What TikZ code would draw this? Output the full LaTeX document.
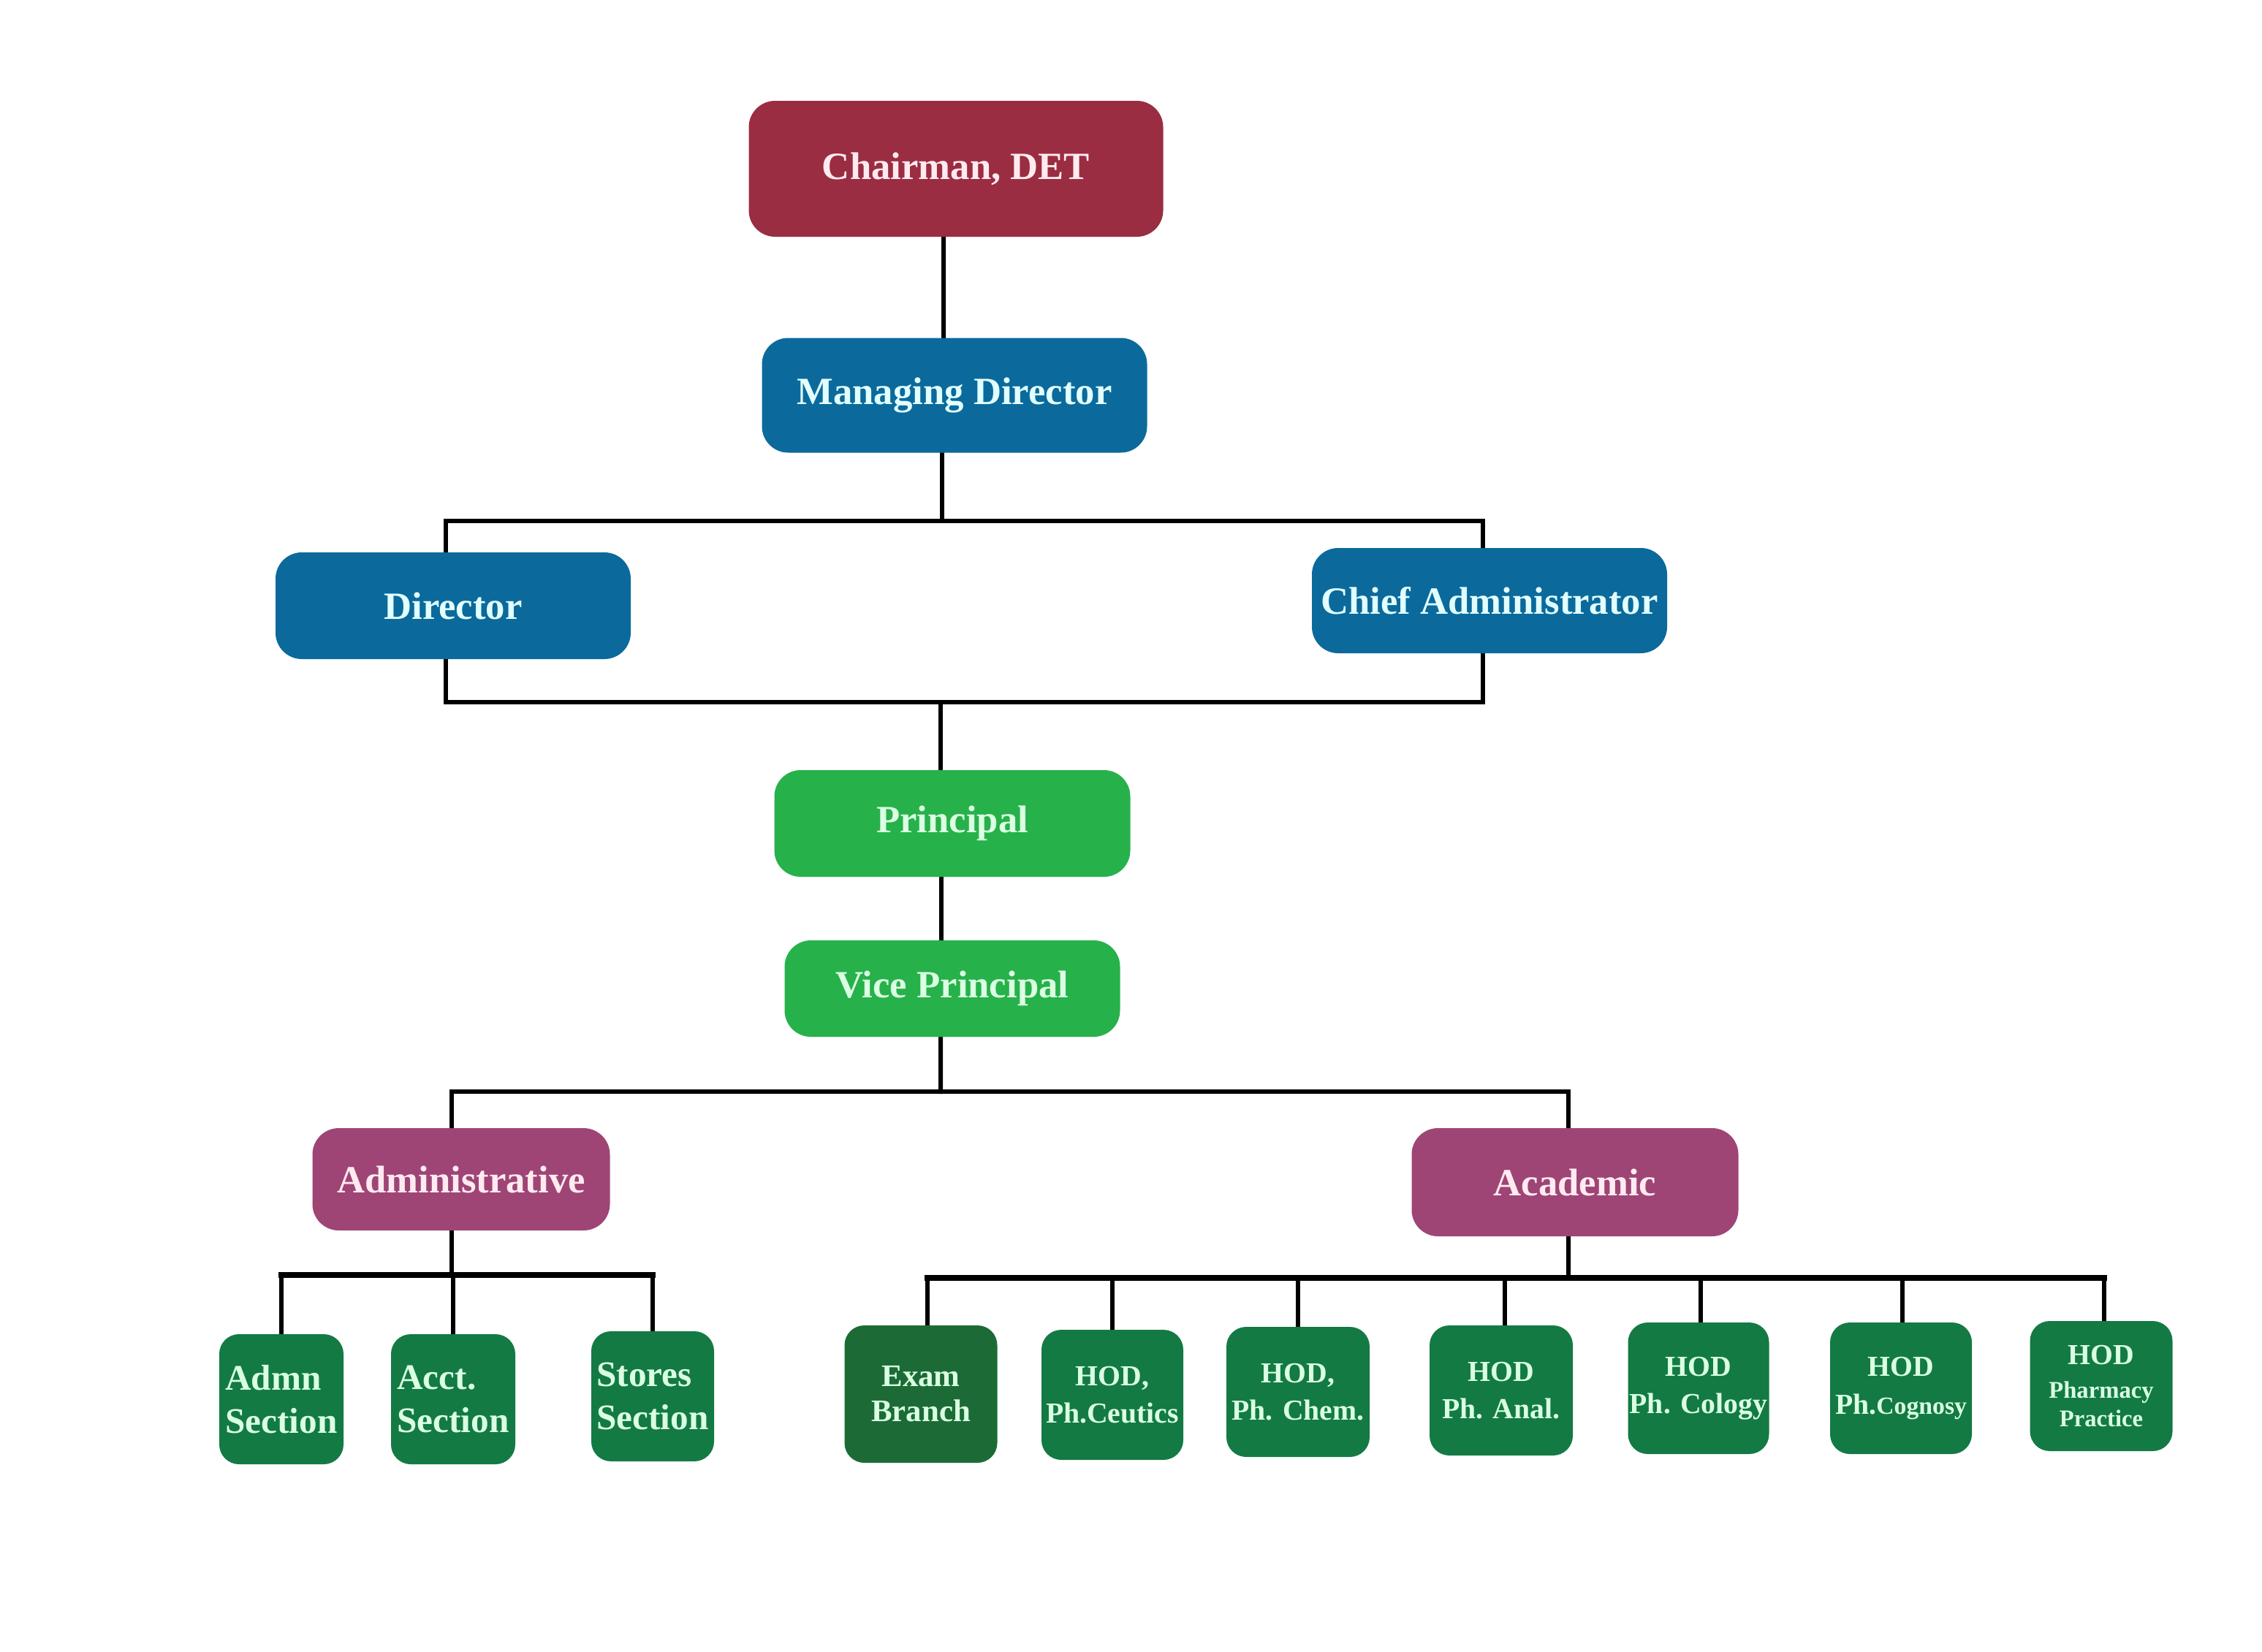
\documentclass[tikz,border=0pt]{standalone}
\usepackage{fontspec}
\setmainfont{Liberation Serif}
\usetikzlibrary{backgrounds}
\definecolor{cRed}{HTML}{9A2D42}
\definecolor{cBlue}{HTML}{0B6A9B}
\definecolor{cGreen}{HTML}{27B14B}
\definecolor{cPurple}{HTML}{9E4576}
\definecolor{cDG}{HTML}{137A44}
\definecolor{cExam}{HTML}{1C6B36}
\definecolor{tPink}{HTML}{FFEAF0}
\definecolor{tCyan}{HTML}{E2FFFF}
\definecolor{tMint}{HTML}{DAFFE2}
\newcommand{\smallpr}{\fontsize{9.3}{11.2}\selectfont}
\tikzset{
  sz/.style 2 args={minimum width=#1cm, minimum height=#2cm},
  bigbox/.style={rectangle, rounded corners=0.36cm, inner sep=0pt, align=center,
    font=\bfseries\fontsize{15}{18}\selectfont},
  redbox/.style={bigbox, fill=cRed, text=tPink},
  bluebox/.style={bigbox, fill=cBlue, text=tCyan},
  greenbox/.style={bigbox, fill=cGreen, text=tMint},
  purplebox/.style={bigbox, fill=cPurple, text=tPink},
  smallbox/.style={rectangle, rounded corners=0.27cm, inner sep=0pt, fill=cDG, text=tMint},
  secbox/.style={smallbox, align=left, font=\bfseries\fontsize{14}{16.8}\selectfont},
  hodbox/.style={smallbox, align=center, font=\bfseries\fontsize{11.3}{14.6}\selectfont},
  conn/.style={line width=1.7pt, black, line cap=rect},
  busline/.style={line width=2.3pt, black, line cap=rect},
}
\begin{document}
\begin{tikzpicture}
\useasboundingbox (0,0) rectangle (30.95,-22.60);
% nodes
\node[redbox, sz={5.67}{1.86}] (chair) at (13.08,-2.31) {Chairman, DET};
\node[bluebox, sz={5.27}{1.57}] (md) at (13.06,-5.41) {Managing Director};
\node[bluebox, sz={4.86}{1.46}] (dir) at (6.20,-8.29) {Director};
\node[bluebox, sz={4.86}{1.44}] (ca) at (20.38,-8.22) {Chief Administrator};
\node[greenbox, sz={4.87}{1.46}] (prin) at (13.03,-11.27) {Principal};
\node[greenbox, sz={4.59}{1.32}] (vp) at (13.03,-13.53) {Vice Principal};
\node[purplebox, sz={4.07}{1.40}] (adm) at (6.31,-16.14) {Administrative};
\node[purplebox, sz={4.47}{1.48}] (acad) at (21.55,-16.18) {Academic};
\node[secbox, sz={1.70}{1.78}] (admn) at (3.85,-19.15) {Admn\\Section};
\node[secbox, sz={1.70}{1.78}] (acct) at (6.20,-19.15) {Acct.\\Section};
\node[secbox, sz={1.68}{1.78}] (stores) at (8.93,-19.11) {Stores\\Section};
\node[smallbox, fill=cExam, align=center, font=\bfseries\fontsize{12.2}{13.6}\selectfont, sz={2.09}{1.88}] (exam) at (12.60,-19.08) {Exam\\Branch};
\node[hodbox, sz={1.94}{1.78}] (ceut) at (15.22,-19.09) {HOD,\\Ph.Ceutics};
\node[hodbox, sz={1.96}{1.78}] (chem) at (17.76,-19.05) {HOD,\\Ph. Chem.};
\node[hodbox, sz={1.96}{1.78}] (anal) at (20.54,-19.03) {HOD\\Ph. Anal.};
\node[hodbox, sz={1.93}{1.80}] (colo) at (23.24,-19.00) {HOD\\Ph. Cology};
\node[hodbox, sz={1.94}{1.80}] (cogn) at (26.01,-19.00) {HOD\\Ph.{\fontsize{9.6}{12}\selectfont Cognosy}};
\node[hodbox, sz={1.95}{1.78}] (pharm) at (28.75,-18.97) {HOD\\[-1.7pt]{\smallpr Pharmacy}\\[-3.4pt]{\smallpr Practice}};
% bus junctions
\coordinate (bus1) at (12.89,-7.13);
\coordinate (bus2) at (12.87,-9.61);
\coordinate (bus3) at (12.87,-14.94);
\coordinate (bus4) at (6.18,-17.45);
\coordinate (bus5) at (21.46,-17.49);
\begin{pgfonlayer}{background}
\fill[white] (0,0) rectangle (30.95,-22.60);
\draw[conn] ([xshift=-0.17cm]chair.south) -- ([xshift=-0.15cm]md.north);
\draw[conn] ([xshift=-0.17cm]md.south) -- (bus1);
\draw[conn] ([xshift=-0.10cm]dir.north) |- (bus1) -| ([xshift=-0.09cm]ca.north);
\draw[conn] ([xshift=-0.10cm]dir.south) |- (bus2) -| ([xshift=-0.09cm]ca.south);
\draw[conn] (bus2) -- (bus2 |- prin.north);
\draw[conn] ([xshift=-0.15cm]prin.south) -- ([xshift=-0.15cm]vp.north);
\draw[conn] ([xshift=-0.16cm]vp.south) -- (bus3);
\draw[conn] ([xshift=-0.13cm]adm.north) |- (bus3) -| ([xshift=-0.09cm]acad.north);
\draw[conn] ([xshift=-0.13cm]adm.south) -- (bus4);
\draw[busline] (admn.north |- bus4) -- (stores.north |- bus4);
\draw[conn] (admn.north) -- (admn.north |- bus4);
\draw[conn] (acct.north) -- (acct.north |- bus4);
\draw[conn] (stores.north) -- (stores.north |- bus4);
\draw[conn] ([xshift=-0.09cm]acad.south) -- (bus5);
\draw[busline] ([xshift=0.09cm]exam.north |- bus5) -- ([xshift=0.04cm]pharm.north |- bus5);
\draw[conn] ([xshift=0.09cm]exam.north) -- ([xshift=0.09cm]exam.north |- bus5);
\draw[conn] (ceut.north) -- (ceut.north |- bus5);
\draw[conn] (chem.north) -- (chem.north |- bus5);
\draw[conn] ([xshift=0.05cm]anal.north) -- ([xshift=0.05cm]anal.north |- bus5);
\draw[conn] ([xshift=0.03cm]colo.north) -- ([xshift=0.03cm]colo.north |- bus5);
\draw[conn] ([xshift=0.02cm]cogn.north) -- ([xshift=0.02cm]cogn.north |- bus5);
\draw[conn] ([xshift=0.04cm]pharm.north) -- ([xshift=0.04cm]pharm.north |- bus5);
\end{pgfonlayer}
\end{tikzpicture}
\end{document}
